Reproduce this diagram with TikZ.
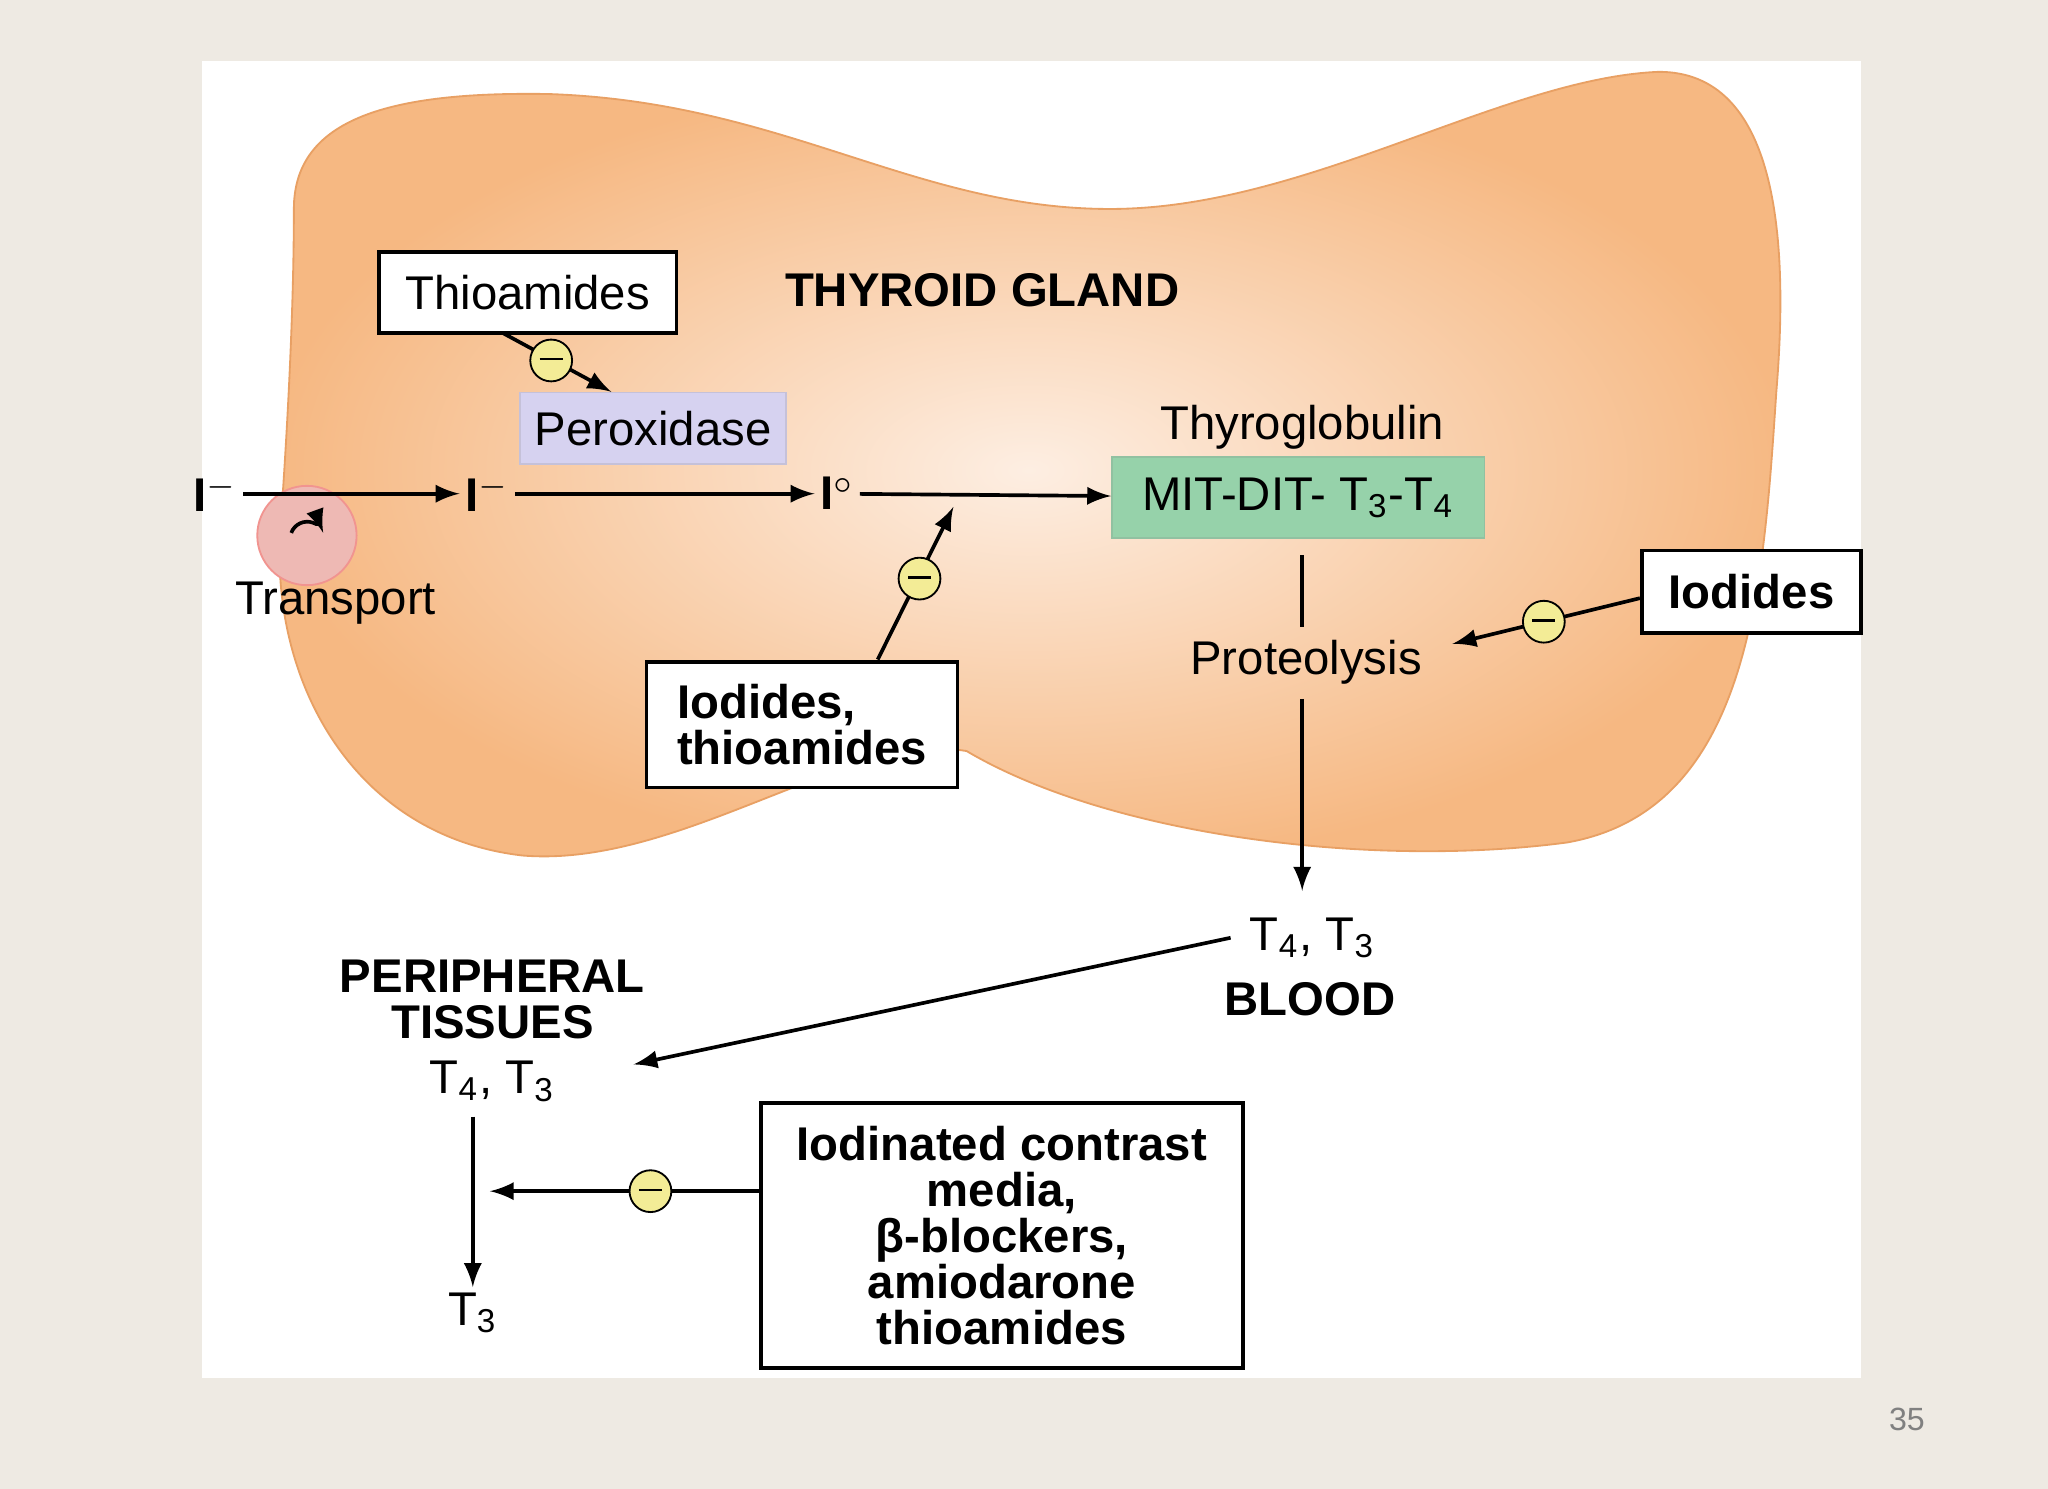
\documentclass[tikz,border=0pt]{standalone}
\usepackage{fontspec}
\setmainfont{Liberation Sans}
\usepackage{tikz}
\usetikzlibrary{positioning}
\definecolor{slidebg}{RGB}{238,234,227}
\definecolor{glandedge}{RGB}{232,160,100}
\definecolor{glandin}{RGB}{253,238,226}
\definecolor{glandout}{RGB}{246,184,130}
\definecolor{peroxfill}{RGB}{214,210,240}
\definecolor{mitfill}{RGB}{150,210,170}
\definecolor{minusfill}{RGB}{243,236,150}
\definecolor{pumpfill}{RGB}{238,185,180}
\tikzset{
  lbl/.style={font=\fontsize{10.3}{10}\selectfont, inner sep=1pt},
  hdr/.style={lbl, font=\fontsize{10.3}{10}\selectfont\bfseries, align=center},
  drug/.style={draw, thick, fill=white, font=\fontsize{10.3}{10}\selectfont, align=center, inner sep=0pt},
  minus/.style={circle, draw, fill=minusfill, minimum size=0.32cm, inner sep=0pt},
  arr/.style={thick, -latex},
}
\newcommand{\minussign}{\rule[0.1ex]{0.5em}{0.5pt}}
\newcommand{\sub}[1]{\textsubscript{#1}}
\begin{document}
\begin{tikzpicture}[x=0.01cm, y=-0.01cm]
    % Slide
    \fill[slidebg] (0,0) rectangle (1568,1140);
    \fill[white] (155,47) rectangle (1425,1055);
    
    % Gland
    \shade[inner color=glandin, outer color=glandout, draw=glandedge]
      (225,160) .. controls (225,90) and (300,70) .. (420,72)
      .. controls (600,78) and (700,160) .. (850,160)
      .. controls (1000,160) and (1150,60) .. (1270,55)
      .. controls (1360,55) and (1370,180) .. (1360,300)
      .. controls (1350,450) and (1340,620) .. (1200,645)
      .. controls (1050,665) and (850,640) .. (740,575)
      .. controls (650,560) and (520,665) .. (400,655)
      .. controls (270,640) and (205,520) .. (215,400)
      .. controls (222,300) and (225,220) .. (225,160) -- cycle;
    \node[hdr] (gland) at (752,222) {THYROID GLAND};
    
    % Iodine uptake
    \node[drug, minimum width=2.28cm, minimum height=0.62cm] (thio) at (404,224) {Thioamides};
    \node[lbl, fill=peroxfill, draw=peroxfill!80!gray, minimum width=2.04cm, minimum height=0.55cm] (perox) at (500,328) {Peroxidase};
    \coordinate (pxa) at (385,255);
    \coordinate (pxb) at (468,300);
    \draw[arr] (pxa) -- (pxb);
    \node[minus] (m1) at (422,276) {\minussign};
    
    \node[circle, fill=pumpfill, draw=pumpfill!80!red, minimum size=0.76cm] (pump) at (235,410) {};
    \draw[thick, -latex] ([shift={(-12,-2)}]pump.center) arc (200:340:13);
    \node[lbl] (transp) at (257,462) {Transport};
    
    \node[lbl, font=\fontsize{10.3}{10}\selectfont\bfseries] (iout) at (165,378) {I$^{-}$};
    \node[lbl, font=\fontsize{10.3}{10}\selectfont\bfseries] (iin) at (373,378) {I$^{-}$};
    \node[lbl, font=\fontsize{10.3}{10}\selectfont\bfseries] (izero) at (641,378) {I$^{\circ}$};
    \node[lbl] (tg) at (997,327) {Thyroglobulin};
    \node[lbl, fill=mitfill, draw=mitfill!80!gray, minimum width=2.85cm, minimum height=0.62cm] (mit) at (994,381) {MIT-DIT- T\sub{3}-T\sub{4}};
    \draw[arr] (iout) -- (iin);
    \draw[arr] (iin) -- (izero);
    \draw[arr] (izero) -- (mit);
    
    \node[drug, font=\fontsize{10.3}{10}\selectfont\bfseries, align=left, minimum width=2.38cm, minimum height=0.96cm] (iothio) at (614,555) {Iodides,\\thioamides};
    \coordinate (cpl) at (730,388);
    \draw[arr] (672,505) -- (cpl);
    \node[minus] (m2) at (704,443) {\minussign};
    
    % Proteolysis
    \node[lbl] (prot) at (1000,507) {Proteolysis};
    \coordinate (ptop) at (997,425);
    \draw[thick] (ptop) -- (997,480);
    \node[lbl] (tblood) at (1005,718) {T\sub{4}, T\sub{3}};
    \node[hdr] (blood) at (1003,765) {BLOOD};
    \draw[arr] (997,535) -- (997,682);
    
    \node[drug, font=\fontsize{10.3}{10}\selectfont\bfseries, minimum width=1.68cm, minimum height=0.63cm] (iod) at (1341,453) {Iodides};
    \coordinate (iodend) at (1112,493);
    \draw[arr] (iod.west) ++(0,5) -- (iodend);
    \node[minus] (m3) at (1182,476) {\minussign};
    
    % Periphery
    \node[hdr] (periph) at (377,765) {PERIPHERAL\\TISSUES};
    \node[lbl] (tper) at (377,828) {T\sub{4}, T\sub{3}};
    \draw[arr] ([xshift=-3]tblood.west) -- (485,815);
    \node[lbl] (tthree) at (362,1005) {T\sub{3}};
    \draw[arr] (362,855) -- (tthree);
    
    \node[drug, font=\fontsize{10.3}{10}\selectfont\bfseries, minimum width=3.69cm, minimum height=2.03cm] (contrast) at (767,946) {Iodinated contrast\\media,\\β-blockers,\\amiodarone\\thioamides};
    \coordinate (dei) at (375,912);
    \draw[arr] (contrast.west |- dei) -- (dei);
    \node[minus] (m4) at (498,912) {\minussign};
    
    % Slide number
    \node[font=\fontsize{7}{8}\selectfont, text=gray] (page) at (1460,1087) {35};
\end{tikzpicture}
\end{document}
